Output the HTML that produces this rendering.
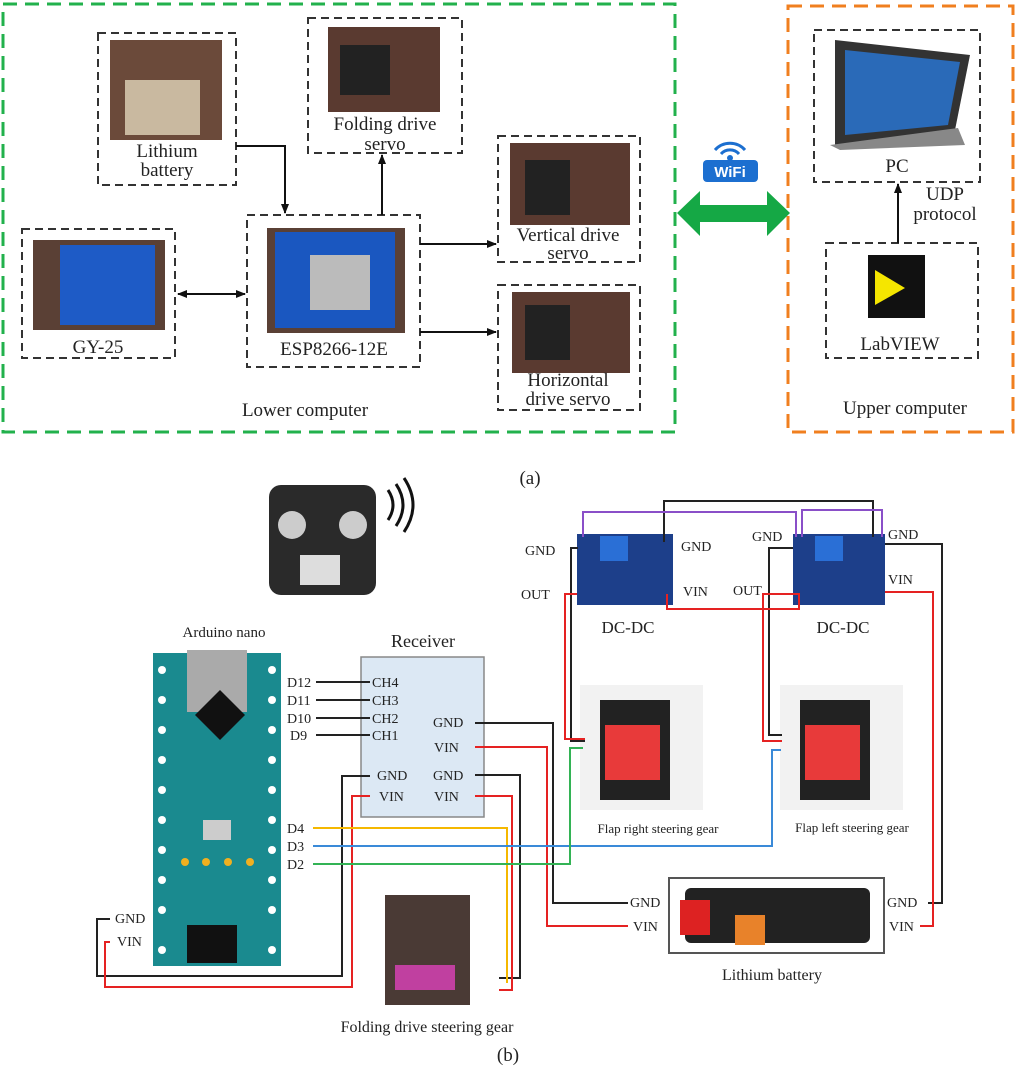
<!DOCTYPE html>
<html><head><meta charset="utf-8"><style>
html,body{margin:0;padding:0;background:#fff;width:1016px;height:1074px;overflow:hidden}
svg text{font-family:"Liberation Serif",serif;fill:#222}
</style></head><body>
<svg width="1016" height="1074" viewBox="0 0 1016 1074" xmlns="http://www.w3.org/2000/svg">
<defs>
<marker id="ah" markerWidth="10" markerHeight="10" refX="9" refY="5" orient="auto" markerUnits="userSpaceOnUse"><path d="M0,1 L10,5 L0,9 z" fill="#111"/></marker>
<marker id="ahs" markerWidth="10" markerHeight="10" refX="1" refY="5" orient="auto" markerUnits="userSpaceOnUse"><path d="M10,1 L0,5 L10,9 z" fill="#111"/></marker>
</defs>
<rect x="3" y="4" width="672" height="428" fill="none" stroke="#22b14c" stroke-width="3" stroke-dasharray="14,8"/>
<rect x="788" y="6" width="225" height="426" fill="none" stroke="#f07f1f" stroke-width="3" stroke-dasharray="14,8"/>
<g fill="none" stroke="#333" stroke-width="2" stroke-dasharray="8,5">
<rect x="98" y="33" width="138" height="152"/>
<rect x="308" y="18" width="154" height="135"/>
<rect x="22" y="229" width="153" height="129"/>
<rect x="247" y="215" width="173" height="152"/>
<rect x="498" y="136" width="142" height="126"/>
<rect x="498" y="285" width="142" height="125"/>
<rect x="814" y="30" width="166" height="152"/>
<rect x="826" y="243" width="152" height="115"/>
</g>
<rect x="110" y="40" width="112" height="100" fill="#6b4a3a"/><rect x="125" y="80" width="75" height="55" fill="#c9b9a0"/>
<rect x="328" y="27" width="112" height="85" fill="#5a3a30"/><rect x="340" y="45" width="50" height="50" fill="#222"/>
<rect x="33" y="240" width="132" height="90" fill="#5a4035"/><rect x="60" y="245" width="95" height="80" fill="#1e5bc6"/>
<rect x="267" y="228" width="138" height="105" fill="#5a4035"/><rect x="275" y="232" width="120" height="96" fill="#1a57c0"/><rect x="310" y="255" width="60" height="55" fill="#bbb"/>
<rect x="510" y="143" width="120" height="82" fill="#5a3a30"/><rect x="525" y="160" width="45" height="55" fill="#222"/>
<rect x="512" y="292" width="118" height="81" fill="#5a3a30"/><rect x="525" y="305" width="45" height="55" fill="#222"/>
<path d="M835,40 L970,55 L955,130 L835,145 z" fill="#333"/><path d="M845,50 L960,62 L948,125 L845,135 z" fill="#2a6ab8"/><path d="M830,145 L958,128 L965,145 L840,150 z" fill="#888"/>
<rect x="868" y="255" width="57" height="63" fill="#111"/><path d="M875,270 L905,288 L875,305 z" fill="#f5e600"/>
<rect x="703" y="160" width="55" height="22" rx="4" fill="#1c6fd0"/><text x="730" y="177" font-size="15" text-anchor="middle" style="fill:#fff;font-family:'Liberation Sans',sans-serif;font-weight:bold">WiFi</text>
<path d="M715,150 A20,20 0 0 1 745,150 M721,154 A12,12 0 0 1 739,154" stroke="#1c6fd0" stroke-width="3" fill="none"/><circle cx="730" cy="158" r="3" fill="#1c6fd0"/>
<path d="M677,213 L700,191 L700,205 L767,205 L767,191 L790,213 L767,236 L767,222 L700,222 L700,236 z" fill="#15a845"/>
<g stroke="#111" stroke-width="2" fill="none">
<path d="M236,146 L285,146 L285,213" marker-end="url(#ah)"/>
<path d="M382,215 L382,155" marker-end="url(#ah)"/>
<path d="M420,244 L496,244" marker-end="url(#ah)"/>
<path d="M420,332 L496,332" marker-end="url(#ah)"/>
<path d="M178,294 L245,294" marker-end="url(#ah)" marker-start="url(#ahs)"/>
<path d="M898,243 L898,184" marker-end="url(#ah)"/>
</g>
<g font-size="19" text-anchor="middle">
<text x="167" y="157">Lithium</text><text x="167" y="176">battery</text>
<text x="385" y="130">Folding drive</text><text x="385" y="150">servo</text>
<text x="98" y="353">GY-25</text>
<text x="334" y="355">ESP8266-12E</text>
<text x="568" y="241">Vertical drive</text><text x="568" y="259">servo</text>
<text x="568" y="386">Horizontal</text><text x="568" y="405">drive servo</text>
<text x="305" y="416">Lower computer</text>
<text x="897" y="172">PC</text>
<text x="945" y="200">UDP</text><text x="945" y="220">protocol</text>
<text x="900" y="350">LabVIEW</text>
<text x="905" y="414">Upper computer</text>
<text x="530" y="484">(a)</text>
</g>
<rect x="269" y="485" width="107" height="110" rx="12" fill="#2a2a2a"/><rect x="300" y="555" width="40" height="30" fill="#ddd"/><circle cx="292" cy="525" r="14" fill="#ccc"/><circle cx="353" cy="525" r="14" fill="#ccc"/>
<path d="M388,490 Q398,505 388,520 M396,484 Q410,505 396,526 M404,478 Q422,505 404,532" stroke="#111" stroke-width="3" fill="none"/>
<rect x="153" y="653" width="128" height="313" fill="#1a8a8f"/><rect x="187" y="650" width="60" height="62" fill="#aaa"/>
<path d="M220,690 L245,715 L220,740 L195,715 z" fill="#111"/><rect x="203" y="820" width="28" height="20" fill="#ccc"/>
<rect x="187" y="925" width="50" height="38" fill="#111"/>
<g fill="#fff">
<circle cx="162" cy="670" r="4"/><circle cx="162" cy="700" r="4"/><circle cx="162" cy="730" r="4"/><circle cx="162" cy="760" r="4"/><circle cx="162" cy="790" r="4"/><circle cx="162" cy="820" r="4"/><circle cx="162" cy="850" r="4"/><circle cx="162" cy="880" r="4"/><circle cx="162" cy="910" r="4"/><circle cx="162" cy="950" r="4"/>
<circle cx="272" cy="670" r="4"/><circle cx="272" cy="700" r="4"/><circle cx="272" cy="730" r="4"/><circle cx="272" cy="760" r="4"/><circle cx="272" cy="790" r="4"/><circle cx="272" cy="820" r="4"/><circle cx="272" cy="850" r="4"/><circle cx="272" cy="880" r="4"/><circle cx="272" cy="910" r="4"/><circle cx="272" cy="950" r="4"/>
</g>
<g fill="#f0b020"><circle cx="185" cy="862" r="4"/><circle cx="206" cy="862" r="4"/><circle cx="228" cy="862" r="4"/><circle cx="250" cy="862" r="4"/></g>
<rect x="361" y="657" width="123" height="160" fill="#dce8f4" stroke="#888" stroke-width="1.5"/>
<rect x="577" y="534" width="96" height="71" fill="#1d3f8a"/><rect x="600" y="536" width="28" height="25" fill="#2a6fd6"/>
<rect x="793" y="534" width="92" height="71" fill="#1d3f8a"/><rect x="815" y="536" width="28" height="25" fill="#2a6fd6"/>
<rect x="580" y="685" width="123" height="125" fill="#f2f2f2"/><rect x="600" y="700" width="70" height="100" fill="#222"/><rect x="605" y="725" width="55" height="55" fill="#e83a3a"/>
<rect x="780" y="685" width="123" height="125" fill="#f2f2f2"/><rect x="800" y="700" width="70" height="100" fill="#222"/><rect x="805" y="725" width="55" height="55" fill="#e83a3a"/>
<rect x="364" y="880" width="129" height="128" fill="#fff"/><rect x="385" y="895" width="85" height="110" fill="#4a3a35"/><rect x="395" y="965" width="60" height="25" fill="#c040a0"/>
<rect x="669" y="878" width="215" height="75" fill="#fff" stroke="#555" stroke-width="2"/><rect x="685" y="888" width="185" height="55" rx="6" fill="#222"/><rect x="735" y="915" width="30" height="30" fill="#e8822a"/><rect x="680" y="900" width="30" height="35" fill="#d22"/>
<g fill="none" stroke-width="2">
<g stroke="#222"><path d="M316,682 H370 M316,700 H370 M316,718 H370 M316,735 H370"/>
<path d="M475,723 H553 V903 H628"/><path d="M475,775 H520 V978 H499"/>
<path d="M370,776 H342 V976 H97 V919 H110"/>
<path d="M578,548 H571 V741 H585"/><path d="M793,548 H769 V735 H782"/>
<path d="M885,544 H942 V903 H928"/><path d="M664,542 V501 H873 V537"/></g>
<g stroke="#8a4fc8"><path d="M583,537 V512 H796 V537"/><path d="M802,537 V510 H882 V537"/></g>
<g stroke="#e52222"><path d="M475,747 H547 V926 H628"/><path d="M475,796 H512 V990 H499"/>
<path d="M370,796 H352 V987 H105 V942 H110"/>
<path d="M577,594 H565 V739 H585"/><path d="M667,594 V609 H799 V594"/>
<path d="M800,594 H763 V741 H782"/><path d="M885,592 H933 V926 H920"/></g>
<path d="M313,828 H507 V983" stroke="#f5b800"/>
<path d="M313,846 H772 V750 H781" stroke="#3a8ad8"/>
<path d="M313,864 H570 V748 H583" stroke="#33b355"/>
</g>
<g font-size="14">
<text x="287" y="687">D12</text><text x="287" y="705">D11</text><text x="287" y="723">D10</text><text x="290" y="740">D9</text>
<text x="372" y="687">CH4</text><text x="372" y="705">CH3</text><text x="372" y="723">CH2</text><text x="372" y="740">CH1</text>
<text x="433" y="727">GND</text><text x="434" y="752">VIN</text>
<text x="377" y="780">GND</text><text x="379" y="801">VIN</text>
<text x="433" y="780">GND</text><text x="434" y="801">VIN</text>
<text x="287" y="833">D4</text><text x="287" y="851">D3</text><text x="287" y="869">D2</text>
<text x="115" y="923">GND</text><text x="117" y="946">VIN</text>
<text x="525" y="555">GND</text><text x="521" y="599">OUT</text>
<text x="681" y="551">GND</text><text x="683" y="596">VIN</text>
<text x="733" y="595">OUT</text><text x="752" y="541">GND</text>
<text x="888" y="539">GND</text><text x="888" y="584">VIN</text>
<text x="630" y="907">GND</text><text x="633" y="931">VIN</text>
<text x="887" y="907">GND</text><text x="889" y="931">VIN</text>
</g>
<g font-size="15" text-anchor="middle">
<text x="224" y="637">Arduino nano</text>
<text x="423" y="647" font-size="18">Receiver</text>
<text x="628" y="633" font-size="17">DC-DC</text><text x="843" y="633" font-size="17">DC-DC</text>
<text x="658" y="833" font-size="13">Flap right steering gear</text>
<text x="852" y="832" font-size="13">Flap left steering gear</text>
<text x="772" y="980" font-size="16">Lithium battery</text>
<text x="427" y="1032" font-size="16">Folding drive steering gear</text>
<text x="508" y="1061" font-size="19">(b)</text>
</g>
</svg>
</body></html>
